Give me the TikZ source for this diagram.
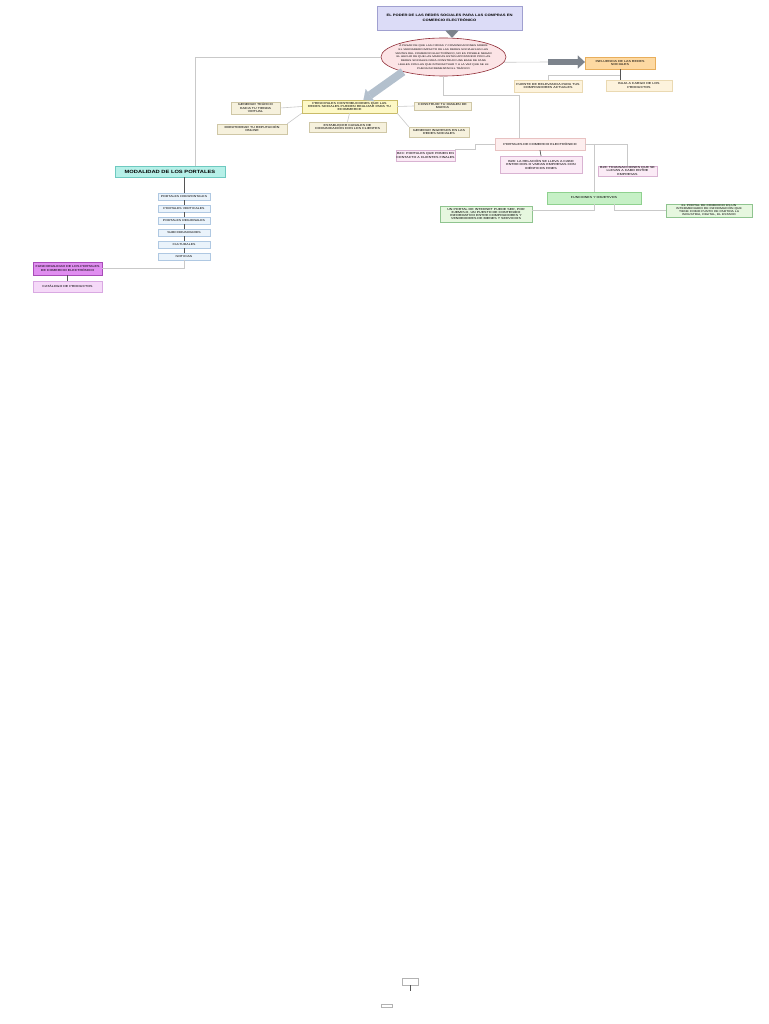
\documentclass[tikz,border=0pt]{standalone}
\usepackage{fontspec}
\setmainfont{Liberation Sans}[FakeStretch=1.25]
\usetikzlibrary{shapes,arrows.meta}

\definecolor{titlefill}{HTML}{DCDCF7}
\definecolor{titledraw}{HTML}{A0A0D0}
\definecolor{ellfill}{HTML}{FCE4E6}
\definecolor{elldraw}{HTML}{8E2A34}
\definecolor{inflfill}{HTML}{FDD9A2}
\definecolor{infldraw}{HTML}{E8AE5C}
\definecolor{peachfill}{HTML}{FDF3DD}
\definecolor{peachdraw}{HTML}{EAD9B2}
\definecolor{prifill}{HTML}{FDF8C6}
\definecolor{pridraw}{HTML}{C9BB68}
\definecolor{beigefill}{HTML}{F6F1DD}
\definecolor{beigedraw}{HTML}{CFC7A6}
\definecolor{porfill}{HTML}{FDEEEE}
\definecolor{pordraw}{HTML}{E8C2C2}
\definecolor{bfill}{HTML}{FBEBF6}
\definecolor{bdraw}{HTML}{D9B3D2}
\definecolor{funfill}{HTML}{C6F0C6}
\definecolor{fundraw}{HTML}{8FD18F}
\definecolor{fchfill}{HTML}{E6F7DF}
\definecolor{fchdraw}{HTML}{8FC48F}
\definecolor{modfill}{HTML}{B6F0E8}
\definecolor{moddraw}{HTML}{6EC9C0}
\definecolor{listfill}{HTML}{EAF3FB}
\definecolor{listdraw}{HTML}{AFC8E2}
\definecolor{fnlfill}{HTML}{E08EF0}
\definecolor{fnldraw}{HTML}{A84CB8}
\definecolor{catfill}{HTML}{F5D9F8}
\definecolor{catdraw}{HTML}{D9A9E2}
\definecolor{linegray}{HTML}{C9C9C9}
\definecolor{darkline}{HTML}{555555}
\definecolor{arrowgray}{HTML}{7C838C}
\definecolor{arrowblue}{HTML}{B3C0CD}

\begin{document}
\begin{tikzpicture}[x=1pt,y=-1pt,
        txt/.style={font=\fontsize{2.9}{3.3}\selectfont, align=center, inner sep=0.6pt},
        box/.style={txt, rectangle, draw, line width=0.4pt},
        link/.style={draw=linegray, line width=0.6pt},
        dlink/.style={draw=darkline, line width=0.7pt},
        bigarrow/.style={line width=6pt, -{Triangle[length=7pt,width=13pt,line width=0.1pt]}}]
        \fill[white] (0,0) rectangle (768,1024);
        \useasboundingbox (0,0) rectangle (768,1024);

        \node[box, fill=titlefill, draw=titledraw, minimum width=145pt, minimum height=24pt, font=\fontsize{3.3}{5}\selectfont\bfseries] (tit) at (449.5,18)
            {EL PODER DE LAS REDES SOCIALES PARA LAS COMPRAS EN\\COMERCIO ELECTRÓNICO};
        \node[ellipse, draw=elldraw, fill=ellfill, line width=0.6pt, minimum width=125pt, minimum height=38pt, inner sep=0pt,
            label={[txt, font=\fontsize{2.45}{3.8}\selectfont]center:{A PESAR DE QUE LAS CIFRAS Y COMUNICACIONES SOBRE\\EL VERDADERO IMPACTO DE LAS REDES SOCIALES EN LAS\\VENTAS DEL COMERCIO ELECTRÓNICO, NO ES POSIBLE NEGAR\\EL HECHO DE QUE LAS MARCAS ESTÁN APOSTANDO POR LAS\\REDES SOCIALES PARA CONSTRUIR UNA BASE DE FANS\\LEALES CON LAS QUE INTERACTUAR Y A LA VEZ QUE SE LE\\PUEDA INCREMENTAR EL TRÁFICO}}] (ell) at (443.5,57) {};

        \node[box, fill=inflfill, draw=infldraw, minimum width=70pt, minimum height=12pt] (infl) at (620,63) {INFLUENCIA DE LAS REDES\\SOCIALES};
        \node[box, fill=peachfill, draw=peachdraw, minimum width=68pt, minimum height=12pt] (fue) at (548,86) {FUENTE DE RELEVANCIA PARA TUS\\COMPRADORES ACTUALES};
        \node[box, fill=peachfill, draw=peachdraw, minimum width=66pt, minimum height=11pt] (baj) at (639,85.5) {BAJA A CARGO DE LOS\\PRODUCTOS};

        \node[box, fill=prifill, draw=pridraw, minimum width=95pt, minimum height=13pt] (pri) at (349.5,106.5) {PRINCIPALES CONTRIBUCIONES QUE LAS\\REDES SOCIALES PUEDEN REALIZAR PARA TU\\ECOMMERCE};
        \node[box, fill=beigefill, draw=beigedraw, minimum width=49pt, minimum height=12pt] (tra) at (255.5,108) {GENERAR TRÁFICO\\HACIA TU TIENDA\\VIRTUAL};
        \node[box, fill=beigefill, draw=beigedraw, minimum width=70pt, minimum height=10pt] (mon) at (252,129) {MONITOREAR TU REPUTACIÓN\\ONLINE};
        \node[box, fill=beigefill, draw=beigedraw, minimum width=77pt, minimum height=10pt] (est) at (347.5,127) {ESTABLECER CANALES DE\\COMUNICACIÓN CON LOS CLIENTES};
        \node[box, fill=beigefill, draw=beigedraw, minimum width=57pt, minimum height=8pt] (con) at (442.5,106) {CONSTRUIR TU IMAGEN DE\\MARCA};
        \node[box, fill=beigefill, draw=beigedraw, minimum width=60pt, minimum height=10pt] (ing) at (439,132) {GENERAR INGRESOS EN LAS\\REDES SOCIALES};

        \node[box, fill=porfill, draw=pordraw, minimum width=90pt, minimum height=12pt] (por) at (540,144) {PORTALES DE COMERCIO ELECTRÓNICO};
        \node[box, fill=bfill, draw=bdraw, minimum width=57pt, minimum height=11pt] (b2c) at (425.5,155.5) {B2C: PORTALES QUE PONEN EN\\CONTACTO A CLIENTES FINALES};
        \node[box, fill=bfill, draw=bdraw, minimum width=82pt, minimum height=17pt] (b2b) at (541,164.5) {B2B: LA RELACIÓN SE LLEVA A CABO\\ENTRE DOS O VARIAS EMPRESAS CON\\IDÉNTICOS FINES};
        \node[box, fill=bfill, draw=bdraw, minimum width=59pt, minimum height=10pt] (b2e) at (627.5,171) {B2E: TRANSACCIONES QUE SE\\LLEVAN A CABO ENTRE\\EMPRESAS};

        \node[box, fill=funfill, draw=fundraw, minimum width=94pt, minimum height=12pt] (fun) at (594,198) {FUNCIONES Y OBJETIVOS};
        \node[box, fill=fchfill, draw=fchdraw, minimum width=92pt, minimum height=16pt] (fl) at (486,214) {UN PORTAL DE INTERNET PUEDE SER, POR\\EJEMPLO, UN PUESTO DE CONTENIDO\\INFORMATIVO ENTRE COMPRADORES Y\\VENDEDORES DE BIENES Y SERVICIOS};
        \node[box, fill=fchfill, draw=fchdraw, minimum width=86pt, minimum height=13pt, font=\fontsize{2.7}{3}\selectfont] (fr) at (709,210.5) {EL PORTAL DE COMERCIO ES UN\\INTERMEDIARIO DE INFORMACIÓN QUE\\TIENE COMO PUNTO DE PARTIDA LA\\INDUSTRIA, DIGITAL, EL ESTADO};

        \node[box, fill=modfill, draw=moddraw, minimum width=110pt, minimum height=11pt, font=\fontsize{4.6}{5.5}\selectfont\bfseries] (mod) at (170,171.5) {MODALIDAD DE LOS PORTALES};
        \foreach \i/\t in {1/PORTALES HORIZONTALES,2/PORTALES VERTICALES,3/PORTALES REGIONALES,4/SUBCOMUNIDADES,5/CULTURALES,6/NOTICIAS}
            \node[box, fill=listfill, draw=listdraw, minimum width=52pt, minimum height=7pt, font=\fontsize{2.8}{3}\selectfont] (l\i) at (184,184.5+12*\i) {\t};
        \node[box, fill=fnlfill, draw=fnldraw, minimum width=69pt, minimum height=13pt] (fnl) at (67.5,268.5) {FUNCIONALIDAD DE LOS PORTALES\\DE COMERCIO ELECTRÓNICO};
        \node[box, fill=catfill, draw=catdraw, minimum width=69pt, minimum height=11pt] (cat) at (67.5,286.5) {CATÁLOGO DE PRODUCTOS};

        \node[box, draw=gray!60, fill=white, minimum width=16pt, minimum height=7pt] (pg) at (410,981.5) {};
        \coordinate (pgend) at (410,991);
        \node[box, draw=gray!60, fill=white, minimum width=11pt, minimum height=3pt, inner sep=0pt] (pgb) at (386.5,1005.5) {};

        % big arrows
        \draw[bigarrow, arrowgray, line width=7pt] ([xshift=2.5pt]tit.south) -- ([xshift=2.5pt]tit.south |- ell.north);
        \coordinate (ra) at (548,62);
        \draw[link] (ell.-5) -- (ra);
        \draw[bigarrow, arrowgray] (ra) -- (infl.west |- ra);
        \draw[line width=8pt, arrowblue, -{Triangle[length=8pt,width=15pt,line width=0.1pt]}] (ell.200) -- ([xshift=14pt]pri.north);

        % connectors
        \draw[dlink] (infl.south) -- (infl.south |- baj.north);
        \draw[link] ([yshift=-6pt]infl.south) -| (fue.north);
        \draw[link] (pri.west) -- (tra.east);
        \draw[link] (pri.south west) -- (mon.north east);
        \draw[link] (pri.south) -- (est.north);
        \draw[link] (pri.east) -- (con.west);
        \draw[link] (pri.south east) -- (ing.north west);
        \draw[link] (ell.south) -- ++(0,19) -| ([xshift=-21pt]por.north);
        \draw[link] (por.west) -| ([xshift=20pt]b2c.north east) -- (b2c.north east);
        \draw[dlink] (por.south) -- (b2b.north);
        \draw[link] (por.east) -| (b2e.north);
        \draw[link] (fun.north |- por.east) -- (fun.north);
        \draw[link] (fun.south) |- ([yshift=4pt]fl.east);
        \draw[link] ([xshift=20pt]fun.south) |- (fr.west);
        \draw[link] (ell.west) -| ([xshift=25pt]mod.north);
        \draw[dlink] (l1.north |- mod.south) -- (l1.north);
        \foreach \i/\j in {1/2,2/3,3/4,4/5,5/6}
            \draw[dlink, line width=0.4pt] (l\i) -- (l\j);
        \draw[link] (l6.south) |- (fnl.east);
        \draw[dlink] (fnl) -- (cat);
        \draw[dlink] (pg.south) -- (pgend);
\end{tikzpicture}
\end{document}
